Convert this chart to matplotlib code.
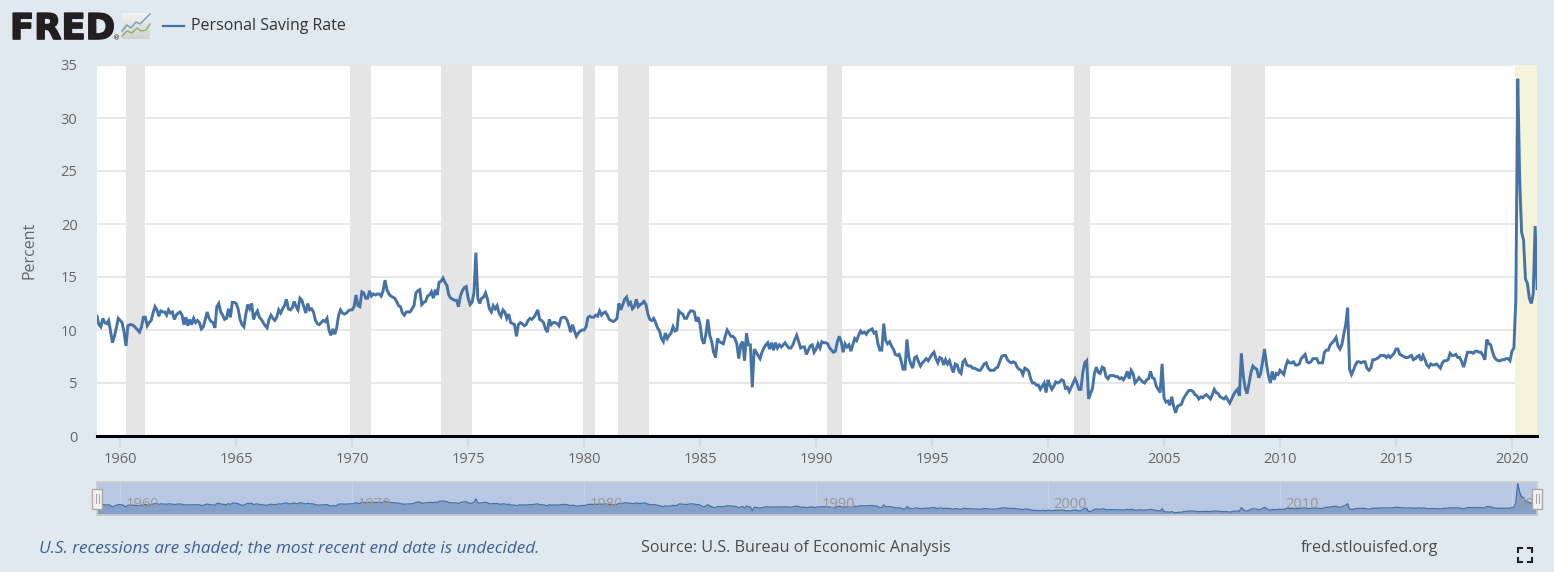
import numpy as np
import matplotlib
matplotlib.use("Agg")
import matplotlib.pyplot as plt
from matplotlib.patches import Rectangle
import matplotlib.patheffects as pe

W, H = 1554, 572

# monthly personal saving rate, one row per year from 1959
rate_by_year = [
    [11.3, 10.5, 10.3, 11.1, 10.7, 10.6, 10.9, 9.9, 8.8, 9.4, 10.2, 11.1],
    [10.9, 10.7, 9.8, 8.5, 10.4, 10.5, 10.5, 10.4, 10.2, 10.0, 9.8, 10.3],
    [11.2, 11.2, 10.4, 10.7, 10.9, 11.6, 12.2, 11.9, 11.3, 11.8, 11.7, 11.7],
    [11.4, 11.9, 11.6, 11.7, 11.0, 11.4, 11.6, 11.7, 11.4, 10.5, 11.2, 10.4],
    [11.0, 10.5, 11.1, 10.7, 10.9, 10.7, 10.1, 10.3, 11.0, 11.7, 11.1, 10.8],
    [10.7, 10.2, 12.2, 12.5, 11.7, 11.4, 11.0, 11.1, 12.0, 11.2, 12.6, 12.6],
    [12.5, 12.0, 11.0, 10.5, 10.3, 11.5, 12.4, 12.0, 12.5, 11.0, 11.5, 11.8],
    [11.2, 11.0, 10.7, 10.4, 10.2, 11.0, 11.4, 11.1, 10.9, 11.2, 11.9, 11.6],
    [12.0, 12.3, 12.9, 12.0, 11.9, 12.1, 12.7, 12.2, 11.9, 13.0, 12.8, 12.2],
    [11.6, 12.5, 11.9, 12.0, 11.7, 10.9, 10.6, 10.5, 10.7, 10.9, 10.8, 11.1],
    [10.0, 9.5, 10.1, 9.6, 10.2, 11.4, 11.9, 11.6, 11.5, 11.6, 11.8, 11.9],
    [11.9, 12.2, 13.3, 12.3, 12.2, 13.6, 13.5, 13.0, 13.0, 13.7, 13.2, 13.4],
    [13.3, 13.4, 13.4, 13.2, 13.7, 14.7, 13.8, 13.4, 13.2, 13.1, 13.0, 12.7],
    [12.3, 12.2, 11.6, 11.4, 11.7, 11.7, 11.7, 12.0, 12.3, 13.5, 13.7, 13.8],
    [12.4, 12.6, 12.7, 13.2, 13.3, 13.6, 13.0, 13.8, 13.3, 14.5, 14.6, 14.9],
    [14.5, 14.2, 13.3, 13.0, 12.9, 12.8, 12.8, 12.2, 13.2, 13.7, 14.0, 14.1],
    [13.0, 12.4, 12.6, 13.5, 17.3, 13.0, 12.5, 13.0, 13.1, 13.5, 12.9, 12.0],
    [11.7, 12.3, 12.0, 12.3, 11.6, 11.3, 11.9, 11.7, 11.1, 11.5, 10.7, 10.6],
    [10.5, 9.4, 10.5, 10.7, 10.6, 10.4, 10.5, 10.9, 11.1, 11.0, 11.2, 11.5],
    [11.9, 11.0, 10.9, 10.7, 10.1, 9.8, 11.0, 10.5, 10.7, 10.7, 10.6, 10.4],
    [11.1, 11.2, 11.2, 11.0, 10.5, 9.8, 10.5, 9.9, 9.4, 9.7, 9.9, 10.0],
    [10.0, 10.3, 11.2, 11.3, 11.2, 11.2, 11.4, 11.3, 11.8, 11.4, 11.6, 11.7],
    [11.4, 11.0, 10.9, 10.8, 10.9, 11.1, 12.5, 11.9, 12.4, 12.9, 13.1, 12.4],
    [12.6, 12.0, 12.2, 12.9, 12.2, 12.4, 12.5, 12.7, 12.4, 11.5, 11.0, 10.9],
    [11.1, 10.7, 10.2, 9.9, 9.2, 8.9, 9.7, 9.2, 9.5, 9.7, 10.3, 9.9],
    [10.0, 11.8, 11.6, 11.5, 11.1, 11.1, 11.5, 11.8, 11.8, 11.7, 10.8, 11.2],
    [10.5, 9.1, 8.7, 9.6, 11.0, 9.5, 8.9, 7.9, 7.4, 9.2, 8.9, 8.8],
    [8.7, 9.4, 10.0, 9.7, 9.4, 9.4, 9.2, 8.7, 7.3, 8.6, 8.9, 7.1],
    [9.7, 8.6, 8.6, 4.6, 8.2, 7.9, 7.6, 7.3, 7.9, 8.3, 8.6, 8.8],
    [8.2, 8.8, 8.1, 8.8, 8.3, 8.6, 8.4, 8.6, 8.8, 8.5, 8.3, 8.3],
    [8.6, 9.1, 9.5, 8.9, 8.3, 8.4, 8.4, 7.7, 8.1, 8.5, 8.6, 7.9],
    [8.2, 8.7, 8.3, 8.9, 8.8, 8.8, 8.7, 8.3, 8.1, 7.9, 8.0, 8.9],
    [9.4, 8.9, 7.9, 8.7, 8.4, 8.6, 8.0, 8.6, 9.2, 9.0, 9.5, 9.9],
    [9.7, 9.8, 9.6, 9.9, 10.0, 10.1, 9.7, 9.8, 8.7, 8.1, 8.1, 10.6],
    [9.0, 8.7, 8.9, 8.5, 8.2, 7.7, 7.6, 7.7, 7.1, 6.3, 6.3, 9.1],
    [7.4, 6.8, 6.4, 7.4, 7.5, 7.0, 6.6, 6.9, 7.1, 7.3, 7.1, 7.4],
    [7.7, 7.9, 7.3, 6.9, 7.4, 7.3, 6.7, 7.2, 6.8, 7.1, 6.5, 6.0],
    [6.8, 6.7, 6.1, 5.9, 7.0, 7.2, 6.7, 6.6, 6.6, 6.4, 6.4, 6.3],
    [6.2, 6.2, 6.5, 6.8, 6.9, 6.4, 6.2, 6.2, 6.2, 6.4, 6.5, 7.0],
    [7.5, 7.6, 7.6, 7.2, 7.0, 6.9, 7.0, 6.9, 6.5, 6.3, 6.2, 5.8],
    [6.4, 6.3, 6.1, 5.4, 5.0, 5.0, 4.8, 4.8, 4.4, 4.7, 5.0, 4.1],
    [5.3, 4.8, 4.4, 4.7, 5.1, 5.0, 5.1, 5.3, 5.2, 4.5, 4.6, 4.2],
    [4.6, 5.0, 5.4, 5.0, 4.4, 4.4, 6.0, 6.9, 7.1, 3.5, 4.0, 4.5],
    [5.9, 6.5, 6.0, 5.9, 6.5, 6.4, 5.6, 5.4, 5.7, 5.7, 5.7, 5.6],
    [5.6, 5.4, 5.5, 5.3, 5.6, 6.1, 5.4, 6.2, 5.9, 5.0, 5.2, 5.5],
    [5.3, 5.1, 5.0, 5.3, 5.4, 6.1, 5.5, 5.4, 4.7, 4.4, 4.1, 6.8],
    [3.6, 3.2, 3.3, 2.9, 3.7, 2.8, 2.2, 2.8, 2.9, 3.0, 3.5, 3.8],
    [4.1, 4.3, 4.3, 4.2, 3.9, 3.8, 3.5, 3.7, 3.6, 3.8, 3.9, 3.7],
    [3.5, 3.9, 4.4, 4.1, 4.0, 3.7, 3.6, 3.5, 3.7, 3.4, 3.1, 3.5],
    [3.9, 4.2, 4.4, 3.8, 7.8, 5.7, 4.5, 4.0, 5.0, 6.0, 6.6, 6.4],
    [6.3, 5.5, 5.9, 7.0, 8.2, 6.8, 5.7, 5.0, 6.1, 5.3, 5.9, 5.8],
    [6.2, 6.0, 5.8, 6.6, 7.1, 6.9, 6.9, 7.0, 6.7, 6.7, 6.8, 7.3],
    [7.5, 7.7, 7.0, 6.9, 7.0, 7.3, 7.3, 7.3, 6.9, 6.9, 6.9, 7.9],
    [8.1, 8.1, 8.6, 8.8, 9.0, 9.3, 8.5, 8.2, 8.6, 9.6, 10.5, 12.1],
    [6.3, 5.8, 6.2, 6.7, 7.0, 7.0, 6.9, 7.0, 7.0, 6.4, 6.2, 6.4],
    [7.2, 7.2, 7.3, 7.4, 7.6, 7.6, 7.6, 7.4, 7.6, 7.4, 7.6, 7.8],
    [8.2, 8.2, 7.7, 7.6, 7.5, 7.4, 7.4, 7.5, 7.6, 7.2, 7.3, 7.5],
    [7.6, 7.1, 7.6, 7.2, 6.7, 6.5, 6.8, 6.7, 6.7, 6.8, 6.6, 6.4],
    [6.9, 7.1, 7.1, 7.2, 7.8, 7.6, 7.6, 7.7, 7.4, 7.4, 7.0, 6.5],
    [7.2, 7.9, 7.9, 7.9, 7.8, 8.0, 8.0, 7.9, 7.9, 7.6, 7.2, 9.1],
    [8.7, 8.6, 7.9, 7.4, 7.2, 7.1, 7.1, 7.2, 7.2, 7.3, 7.3, 7.1],
    [8.0, 8.3, 12.8, 33.7, 24.2, 19.2, 18.5, 14.8, 14.4, 13.0, 12.5, 13.4],
    [19.8, 13.9],
]
recessions = [(1960.25, 1961.07), (1969.9, 1970.81), (1973.83, 1975.16), (1979.95, 1980.47),
              (1981.46, 1982.8), (1990.47, 1991.1), (2001.1, 2001.8), (2007.88, 2009.35)]
current_recession = (2020.13, 2021.08)
x_ticks = list(range(1960, 2021, 5))
y_ticks = list(range(0, 36, 5))
nav_labels = [1960, 1970, 1980, 1990, 2000, 2010, 2020]

rate = np.array([v for row in rate_by_year for v in row])
years = 1959 + np.arange(len(rate)) / 12
xlim = (1959, 2021.08)

plt.rcParams["font.family"] = ["Open Sans", "DejaVu Sans"]
bg = "#e1e9f0"
blue = "#4572a7"


def px_axes(left, top, right, bottom, **kw):
    return fig.add_axes([left / W, 1 - bottom / H, (right - left) / W, (bottom - top) / H], **kw)


fig = plt.figure(figsize=(W / 100, H / 100), dpi=100, facecolor=bg)

# main chart
ax = px_axes(97, 65, 1537, 436)
ax.set_xlim(*xlim)
ax.set_ylim(0, 35)
for a, b in recessions:
    ax.axvspan(a, b, color="#e5e5e5", lw=0, zorder=2)
ax.axvspan(*current_recession, color="#f4f4db", lw=0, zorder=2)
ax.grid(axis="y", color="#e8e8e8", lw=1.4, zorder=1)
ax.plot(years, rate, color=blue, lw=2.1, zorder=3, solid_joinstyle="miter")
for s in ["top", "left", "right"]:
    ax.spines[s].set_visible(False)
ax.spines["bottom"].set_color("black")
ax.spines["bottom"].set_linewidth(2.2)
ax.spines["bottom"].set_zorder(5)
ax.set_xticks(x_ticks)
ax.set_yticks(y_ticks)
ax.tick_params(axis="x", color="#ccd6eb", length=8, width=1.2, labelcolor="#666666", labelsize=10.5, pad=3.5)
ax.tick_params(axis="y", length=0, labelcolor="#666666", labelsize=10.5, pad=14)
ax.set_ylabel("Percent", color="#666666", fontsize=11.5, labelpad=16.5)

# navigator
nav = px_axes(97, 482, 1537, 515)
nav.set_xlim(*xlim)
nav.set_ylim(0, 35)
nav.set_facecolor("#b9c8e2")
nav.fill_between(years, rate, 0, color="#84a0c8", lw=0)
nav.plot(years, rate, color=blue, lw=0.9)
for y in nav_labels:
    nav.axvline(y, color="#c4d0e4", lw=0.8, zorder=0)
    nav.text(y + 0.22, 0.32, str(y), transform=nav.get_xaxis_transform(), color="#999999",
             fontsize=10.5, ha="left", va="center", clip_on=True)
nav.set_xticks([])
nav.set_yticks([])
for s in nav.spines.values():
    s.set_color("#cccccc")
    s.set_linewidth(1.2)

# header, footer and handles are placed in figure pixels on a full overlay
over = fig.add_axes([0, 0, 1, 1], facecolor="none")
over.set_xlim(0, W)
over.set_ylim(H, 0)
over.axis("off")

over.text(10, 39, "FRED", family="DejaVu Sans", fontweight="bold", fontsize=25.5, color="#231f20",
          va="baseline", path_effects=[pe.withStroke(linewidth=1.2, foreground="#231f20")])
over.text(113, 40, "®", family="DejaVu Sans", fontsize=5, color="#231f20", va="baseline")
grad = np.linspace(0, 1, 30).reshape(-1, 1)
over.imshow(grad, extent=(122, 150, 39, 13), cmap=matplotlib.colors.LinearSegmentedColormap.from_list(
    "logo", ["#f2f2f2", "#cfd3cf"]), aspect="auto", zorder=1)
over.plot([122, 127, 131, 136, 140, 145, 150], [31, 25, 28, 22, 24, 19, 14], color="#6f9cc4", lw=1, zorder=2)
over.plot([122, 127, 132, 137, 141, 146, 150], [36, 31, 33, 28, 31, 30, 24], color="#8fae6d", lw=1, zorder=2)
over.set_xlim(0, W)
over.set_ylim(H, 0)

over.plot([163, 184], [25.5, 25.5], color=blue, lw=1.6)
over.text(191, 26.5, "Personal Saving Rate", color="#333333", fontsize=11.5, va="center")

for x in (97, 1537):
    over.add_patch(Rectangle((x - 5, 488.5), 10, 20, fc="#f2f2f2", ec="#a8a8a8", lw=1, zorder=4))
    over.plot([x - 1.5, x - 1.5], [494, 503], color="#a8a8a8", lw=0.8, zorder=5)
    over.plot([x + 1.5, x + 1.5], [494, 503], color="#a8a8a8", lw=0.8, zorder=5)

over.text(39, 548.5, "U.S. recessions are shaded; the most recent end date is undecided.",
          color="#3c6199", style="italic", fontsize=12.3, va="center")
over.text(641, 548.5, "Source: U.S. Bureau of Economic Analysis", color="#4d4d4d", fontsize=11.6, va="center")
over.text(1301, 548.5, "fred.stlouisfed.org", color="#4d4d4d", fontsize=11.6, va="center")

for cx, cy, dx, dy in [(1518, 548, 1, 1), (1532, 548, -1, 1), (1518, 562, 1, -1), (1532, 562, -1, -1)]:
    over.plot([cx + 4 * dx, cx, cx], [cy, cy, cy + 4 * dy], color="#222222", lw=1.5, solid_joinstyle="miter")

fig.savefig("out.png", dpi=100, facecolor=bg)
